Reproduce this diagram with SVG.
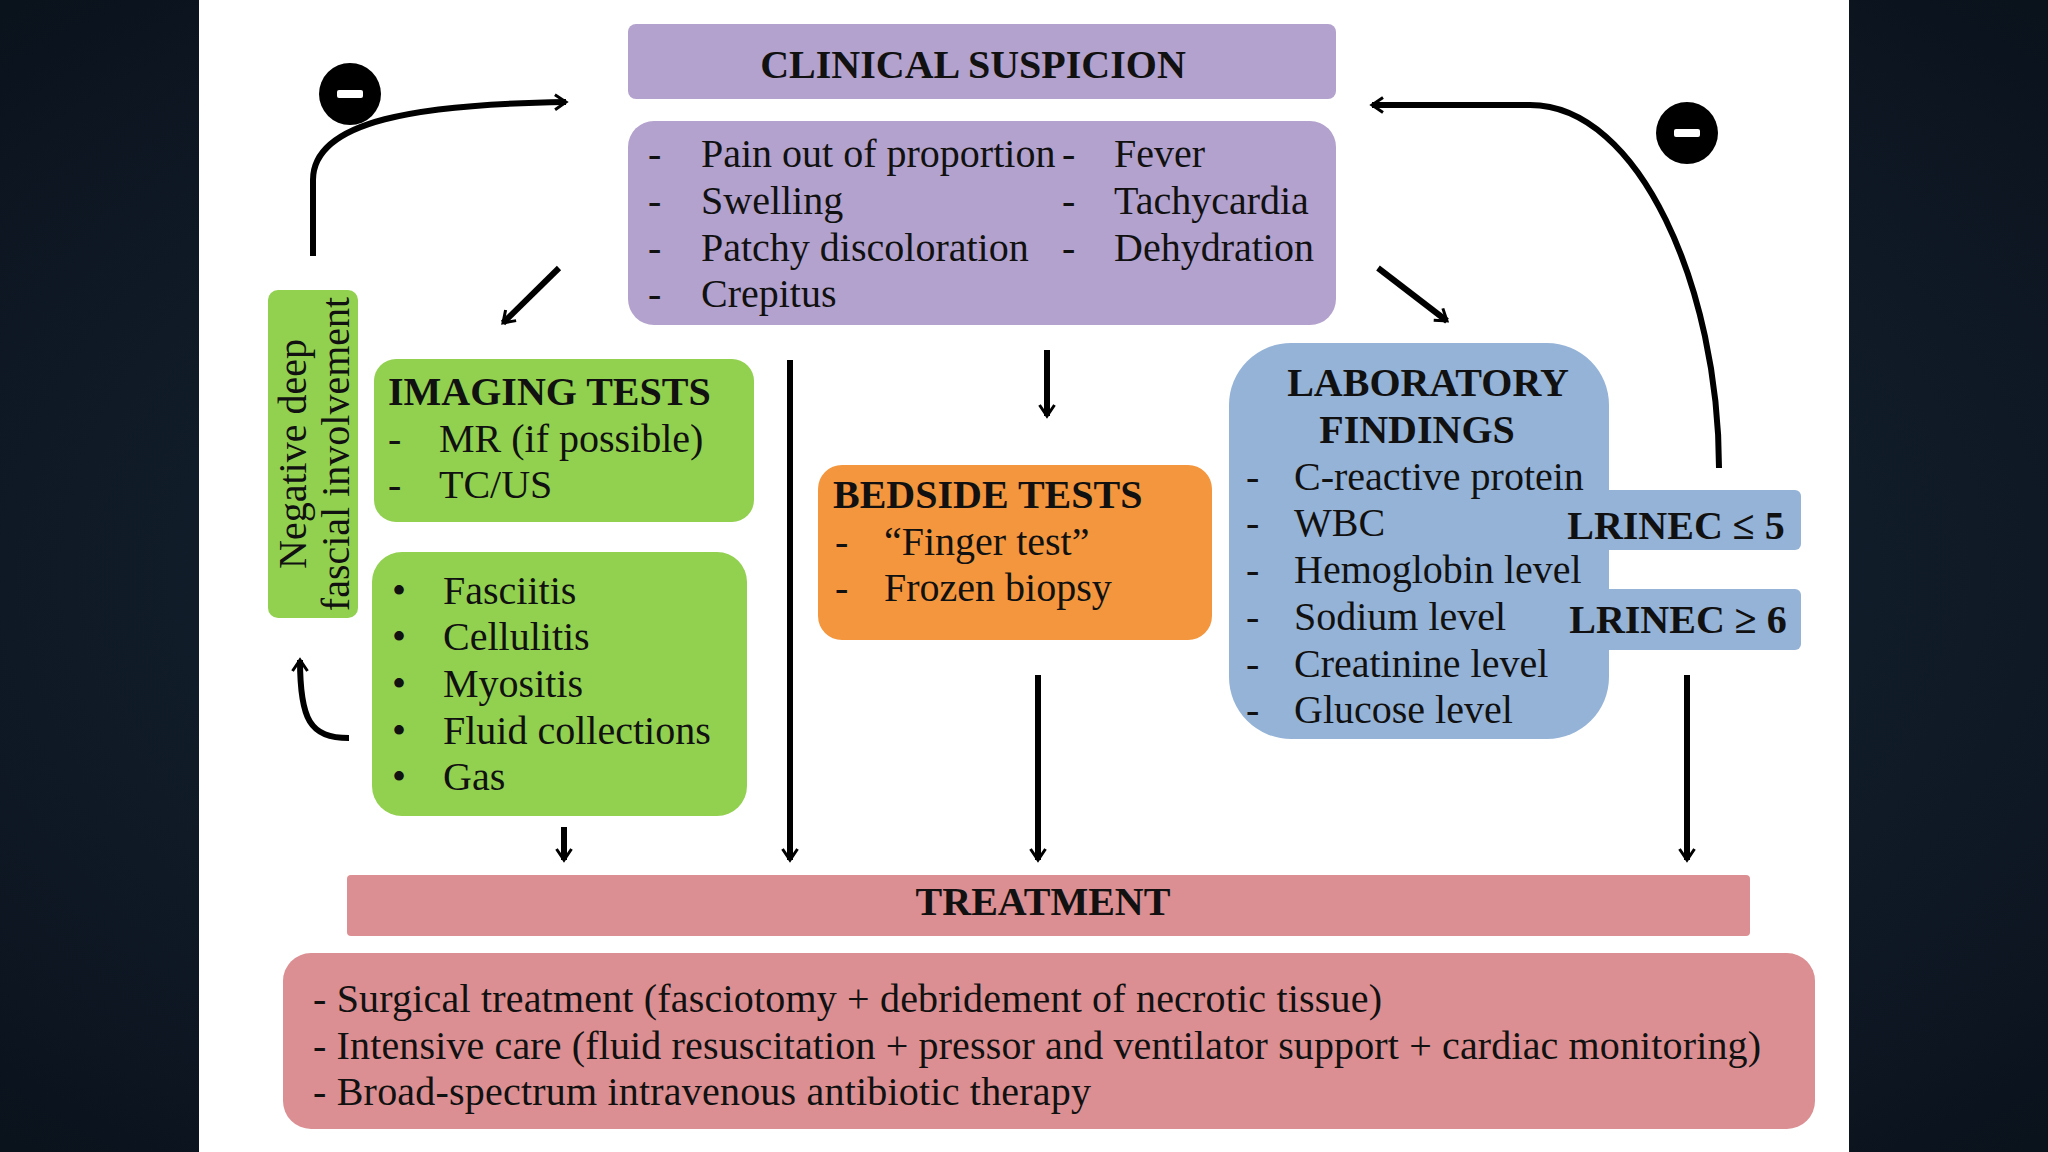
<svg xmlns="http://www.w3.org/2000/svg" width="2048" height="1152" viewBox="0 0 2048 1152">
<style>
text{font-family:"Liberation Serif",serif;fill:#111}
.t{font-size:40px}
.b{font-weight:bold;font-size:40px}
.ln{fill:none;stroke:#000;stroke-width:6;marker-end:url(#ah)}
</style>
<defs>
<marker id="ah" viewBox="0 0 10 10" refX="8" refY="5" markerWidth="5" markerHeight="5" orient="auto" markerUnits="userSpaceOnUse" style="overflow:visible">
<path d="M-14,-10 L8,5 L-14,20" fill="none" stroke="#000" stroke-width="6"/>
</marker>
<radialGradient id="bg" cx="0.5" cy="0.5" r="0.7"><stop offset="0" stop-color="#1b2a3c"/><stop offset="1" stop-color="#0a121c"/></radialGradient>
</defs>
<rect width="2048" height="1152" fill="url(#bg)"/>
<rect x="199" y="0" width="1650" height="1152" fill="#fff"/>

<g id="clinical">
<rect x="628" y="24" width="708" height="75" rx="8" fill="#b3a2cd"/>
<text class="b" x="973" y="78" text-anchor="middle">CLINICAL SUSPICION</text>
</g>
<g id="symptoms">
<rect x="628" y="121" width="708" height="204" rx="26" fill="#b3a2cd"/>
<text class="t" x="648" y="167">-</text><text class="t" x="701" y="167">Pain out of proportion</text>
<text class="t" x="648" y="214">-</text><text class="t" x="701" y="214">Swelling</text>
<text class="t" x="648" y="261">-</text><text class="t" x="701" y="261">Patchy discoloration</text>
<text class="t" x="648" y="307">-</text><text class="t" x="701" y="307">Crepitus</text>
<text class="t" x="1062" y="167">-</text><text class="t" x="1114" y="167">Fever</text>
<text class="t" x="1062" y="214">-</text><text class="t" x="1114" y="214">Tachycardia</text>
<text class="t" x="1062" y="261">-</text><text class="t" x="1114" y="261">Dehydration</text>
</g>
<g id="imaging">
<rect x="374" y="359" width="380" height="163" rx="22" fill="#92d050"/>
<text class="b" x="388" y="405">IMAGING TESTS</text>
<text class="t" x="388" y="452">-</text><text class="t" x="439" y="452">MR (if possible)</text>
<text class="t" x="388" y="498">-</text><text class="t" x="439" y="498">TC/US</text>
</g>
<g id="findings">
<rect x="372" y="552" width="375" height="264" rx="30" fill="#92d050"/>
<text class="t" x="392" y="604">•</text><text class="t" x="443" y="604">Fasciitis</text>
<text class="t" x="392" y="650">•</text><text class="t" x="443" y="650">Cellulitis</text>
<text class="t" x="392" y="697">•</text><text class="t" x="443" y="697">Myositis</text>
<text class="t" x="392" y="744">•</text><text class="t" x="443" y="744">Fluid collections</text>
<text class="t" x="392" y="790">•</text><text class="t" x="443" y="790">Gas</text>
</g>
<g id="negative">
<rect x="268" y="290" width="90" height="328" rx="10" fill="#92d050"/>
<text class="t" transform="translate(306,454) rotate(-90)" text-anchor="middle">Negative deep</text>
<text class="t" transform="translate(349,454) rotate(-90)" text-anchor="middle">fascial involvement</text>
</g>
<g id="bedside">
<rect x="818" y="465" width="394" height="175" rx="24" fill="#f3963e"/>
<text class="b" x="833" y="508">BEDSIDE TESTS</text>
<text class="t" x="835" y="555">-</text><text class="t" x="884" y="555">“Finger test”</text>
<text class="t" x="835" y="601">-</text><text class="t" x="884" y="601">Frozen biopsy</text>
</g>
<g id="lab">
<rect x="1229" y="343" width="380" height="396" rx="62" fill="#95b3d7"/>
<text class="b" x="1428" y="396" text-anchor="middle">LABORATORY</text>
<text class="b" x="1417" y="443" text-anchor="middle">FINDINGS</text>
<text class="t" x="1246" y="490">-</text><text class="t" x="1294" y="490">C-reactive protein</text>
<text class="t" x="1246" y="536">-</text><text class="t" x="1294" y="536">WBC</text>
<text class="t" x="1246" y="583">-</text><text class="t" x="1294" y="583">Hemoglobin level</text>
<text class="t" x="1246" y="630">-</text><text class="t" x="1294" y="630">Sodium level</text>
<text class="t" x="1246" y="677">-</text><text class="t" x="1294" y="677">Creatinine level</text>
<text class="t" x="1246" y="723">-</text><text class="t" x="1294" y="723">Glucose level</text>
</g>
<g id="lrinec5">
<rect x="1561" y="490" width="240" height="60" rx="6" fill="#95b3d7"/>
<text class="b" x="1676" y="539" text-anchor="middle">LRINEC ≤ 5</text>
</g>
<g id="lrinec6">
<rect x="1561" y="589" width="240" height="61" rx="6" fill="#95b3d7"/>
<text class="b" x="1678" y="633" text-anchor="middle">LRINEC ≥ 6</text>
</g>
<g id="treatment">
<rect x="347" y="875" width="1403" height="61" rx="4" fill="#db8f92"/>
<text class="b" x="1043" y="915" text-anchor="middle">TREATMENT</text>
</g>
<g id="treatdetail">
<rect x="283" y="953" width="1532" height="176" rx="28" fill="#db8f92"/>
<text class="t" x="313" y="1012" textLength="1069" lengthAdjust="spacing">- Surgical treatment (fasciotomy + debridement of necrotic tissue)</text>
<text class="t" x="313" y="1059" textLength="1448" lengthAdjust="spacing">- Intensive care (fluid resuscitation + pressor and ventilator support + cardiac monitoring)</text>
<text class="t" x="313" y="1105" textLength="778" lengthAdjust="spacing">- Broad-spectrum intravenous antibiotic therapy</text>
</g>
<g id="minus1"><circle cx="350" cy="94" r="31" fill="#000"/><rect x="337" y="90" width="26" height="8" rx="2" fill="#fff"/></g>
<g id="minus2"><circle cx="1687" cy="133" r="31" fill="#000"/><rect x="1674" y="129" width="26" height="8" rx="2" fill="#fff"/></g>
<g id="connectors">
<path class="ln" d="M313,256 L313,180 C313,120 420,104 566,102"/>
<path class="ln" d="M1719,468 C1719,290 1640,105 1530,105 L1372,105"/>
<path class="ln" d="M559,268 L503,323"/>
<path class="ln" d="M1378,268 L1447,321"/>
<path class="ln" d="M1047,350 L1047,416"/>
<path class="ln" d="M790,360 L790,860"/>
<path class="ln" d="M1038,675 L1038,860"/>
<path class="ln" d="M1687,675 L1687,860"/>
<path class="ln" d="M564,827 L564,860"/>
<path class="ln" d="M349,738 C310,738 300,720 300,660"/>
</g>
</svg>
